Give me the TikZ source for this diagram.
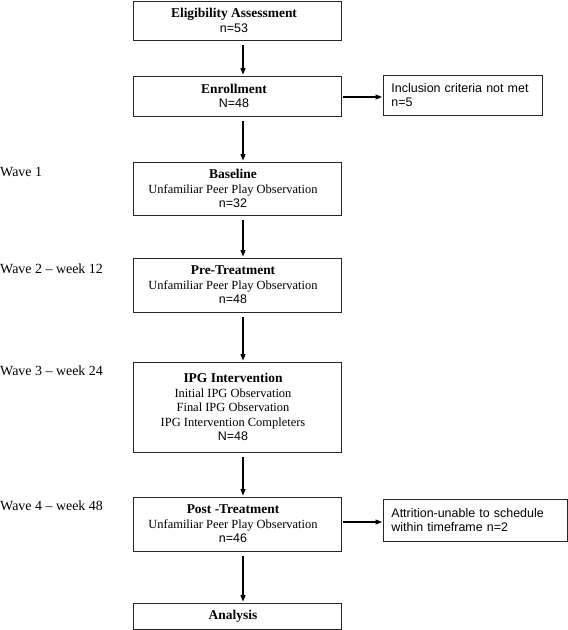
\documentclass[tikz,border=0pt]{standalone}
\usepackage{fontspec}
\setmainfont{Liberation Serif}
\setsansfont{Liberation Sans}
\usetikzlibrary{arrows.meta}
\newcommand\boxhead[1]{{\fontsize{13.5}{15}\selectfont\bfseries #1}}
\newcommand\boxn[1]{{\sffamily #1}}
\begin{document}
\begin{tikzpicture}[x=1bp,y=-1bp,
 box/.style={draw=black!85, line width=0.9bp, rectangle, inner sep=0pt, minimum width=208bp},
 txt/.style={inner sep=0pt, align=center, font=\fontsize{12.5}{14.5}\selectfont},
 side/.style={draw=black!85, line width=0.9bp, rectangle, inner xsep=8bp, inner ysep=0pt, align=left, anchor=west, font=\sffamily\fontsize{12.5}{14.5}\selectfont},
 arr/.style={-{Triangle[length=6.5bp,width=5bp]}, line width=1.1bp, shorten <=5bp, shorten >=1bp},
 wave/.style={anchor=base west, inner sep=0pt, font=\fontsize{14}{16}\selectfont}]
\fill[white] (0,0) rectangle (568,630);
\useasboundingbox (0,0) rectangle (568,630);
% boxes
\node[box, minimum height=39bp] (elig) at (237,20.5) {};
\node[box, minimum height=40bp] (enr) at (237,96) {};
\node[box, minimum height=53bp] (base) at (237,188.5) {};
\node[box, minimum height=54bp] (pre) at (237,285) {};
\node[box, minimum height=90bp] (ipg) at (237,407) {};
\node[box, minimum height=54bp] (post) at (237,524) {};
\node[box, minimum height=26bp] (ana) at (237,616) {};
% box texts
\node[txt] (elig-t) at ([xshift=-3bp]elig.center) {\boxhead{Eligibility Assessment}\\\boxn{n=53}};
\node[txt] (enr-t) at ([xshift=-3bp]enr.center) {\boxhead{Enrollment}\\\boxn{N=48}};
\node[txt] (base-t) at ([xshift=-4bp]base.center) {\boxhead{Baseline}\\Unfamiliar Peer Play Observation\\\boxn{n=32}};
\node[txt] (pre-t) at ([xshift=-4bp]pre.center) {\boxhead{Pre-Treatment}\\Unfamiliar Peer Play Observation\\\boxn{n=48}};
\node[txt] (ipg-t) at ([xshift=-4bp]ipg.center) {\boxhead{IPG Intervention}\\Initial IPG Observation\\Final IPG Observation\\IPG Intervention Completers\\\boxn{N=48}};
\node[txt] (post-t) at ([xshift=-4bp]post.center) {\boxhead{Post -Treatment}\\Unfamiliar Peer Play Observation\\\boxn{n=46}};
\node[txt] (ana-t) at ([xshift=-4bp]ana.center) {\boxhead{Analysis}};
% side boxes
\node[side, text width=143bp, minimum height=40bp] (incl) at (383,95) {Inclusion criteria not met\\n=5};
\node[side, text width=168bp, minimum height=42bp] (attr) at (383,520) {Attrition-unable to schedule\\within timeframe n=2};
% wave labels
\node[wave] (w1) at (0,177) {Wave 1};
\node[wave] (w2) at (0,273) {Wave 2 -- week 12};
\node[wave] (w3) at (0,375) {Wave 3 -- week 24};
\node[wave] (w4) at (0,510) {Wave 4 -- week 48};
% connectors
\draw[arr] ([xshift=6bp]elig.south) -- ([xshift=6bp]enr.north);
\draw[arr] ([xshift=6bp]enr.south) -- ([xshift=6bp]base.north);
\draw[arr] ([xshift=6bp]base.south) -- ([xshift=6bp]pre.north);
\draw[arr] ([xshift=6bp]pre.south) -- ([xshift=6bp]ipg.north);
\draw[arr] ([xshift=6bp]ipg.south) -- ([xshift=6bp]post.north);
\draw[arr] ([xshift=6bp]post.south) -- ([xshift=6bp]ana.north);
\draw[arr, shorten <=2bp] ([yshift=-1bp]enr.east) -- ([yshift=-1bp]enr.east -| incl.west);
\draw[arr, shorten <=2bp] ([yshift=2bp]post.east) -- ([yshift=2bp]post.east -| attr.west);
\end{tikzpicture}
\end{document}
